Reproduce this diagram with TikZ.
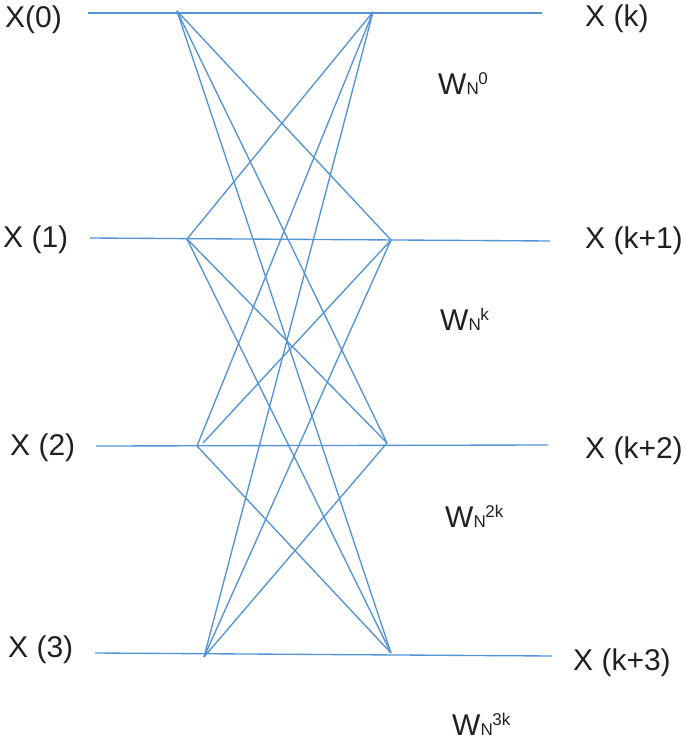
\documentclass[tikz,border=0pt]{standalone}
\usepackage{fontspec}
\setmainfont{Liberation Sans}
\definecolor{ln}{RGB}{84,147,212}
\definecolor{tx}{RGB}{35,31,32}
\newcommand\twid[1]{W{\fontsize{17}{17}\selectfont N\kern-0.5pt\raisebox{10pt}{#1}}}
\begin{document}
\begin{tikzpicture}[x=1pt,y=-1pt,
  wire/.style={draw=ln, line width=1.35pt},
  lab/.style={anchor=base west, inner sep=0pt, text=tx, font=\fontsize{30}{36}\selectfont}]
\useasboundingbox (0,0) rectangle (685,746);
% line ends
\coordinate (A0) at (88,13);   \coordinate (B0) at (542,13);
\coordinate (A1) at (90,238);  \coordinate (B1) at (550,241);
\coordinate (A2) at (96,446);  \coordinate (B2) at (548,445);
\coordinate (A3) at (95,653);  \coordinate (B3) at (552,656);
% butterfly nodes
\coordinate (L0) at (177,11);  \coordinate (R0) at (373,12);
\coordinate (L1) at (187,239); \coordinate (R1) at (391,240);
\coordinate (L2) at (197,446); \coordinate (R2) at (387,443);
\coordinate (L2b) at (203,443);
\coordinate (L3) at (204,657); \coordinate (R3) at (391,653);
% horizontal lines
\foreach \i in {0,...,3} \draw[wire] (A\i) -- (B\i);
% crossing lines
\draw[wire] (L0) -- (R1);
\draw[wire] (L0) -- (R2);
\draw[wire] (L0) -- (R3);
\draw[wire] (L1) -- (R0);
\draw[wire] (L1) -- (R2);
\draw[wire] (L1) -- (R3);
\draw[wire] (L2) -- (R0);
\draw[wire] (L2b) -- (R1);
\draw[wire] (L2) -- (R3);
\draw[wire] (L3) -- (R0);
\draw[wire] (L3) -- (R1);
\draw[wire] (L3) -- (R2);
% labels
\node[lab] (x0) at (5,28) {X(0)};
\node[lab] (x1) at (3,247) {X (1)};
\node[lab] (x2) at (10,455) {X (2)};
\node[lab] (x3) at (8,657) {X (3)};
\node[lab] (y0) at (585,27) {X (k)};
\node[lab] (y1) at (585,248) {X (k+1)};
\node[lab] (y2) at (585,458) {X (k+2)};
\node[lab] (y3) at (573,670) {X (k+3)};
\node[lab] (w0) at (438,95) {\twid{0}};
\node[lab] (w1) at (440,330) {\twid{k}};
\node[lab] (w2) at (445,527) {\twid{2k}};
\node[lab] (w3) at (452,735) {\twid{3k}};
\end{tikzpicture}
\end{document}
